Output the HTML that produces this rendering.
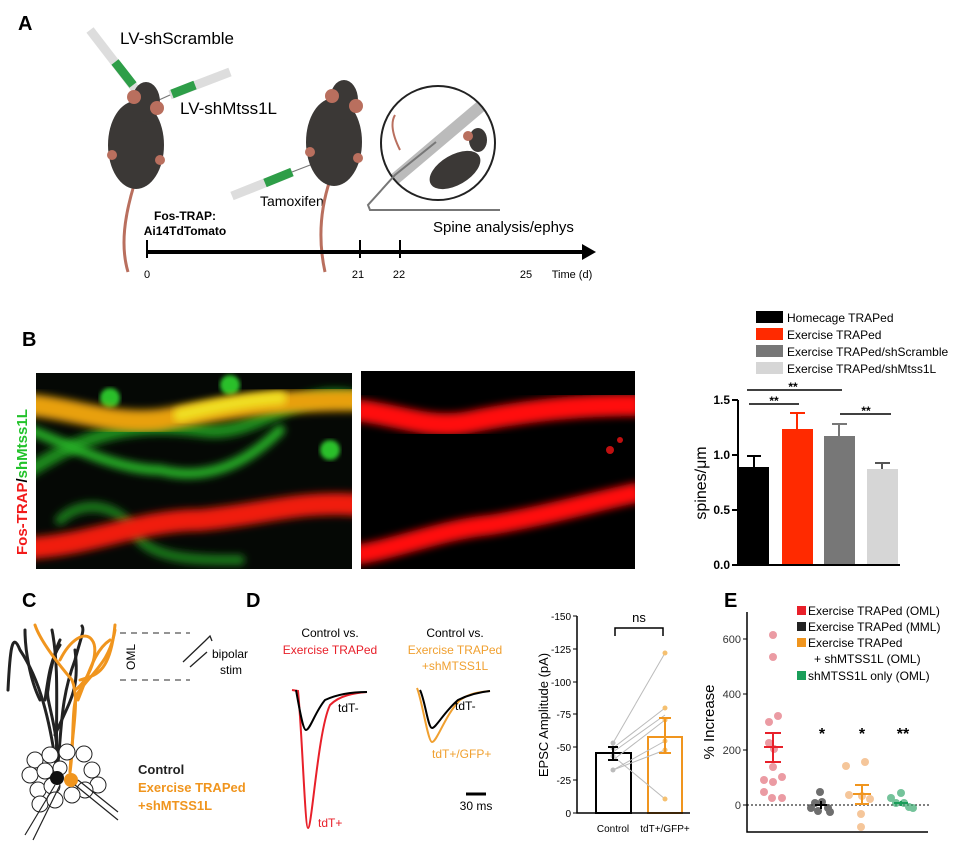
<!DOCTYPE html>
<html><head><meta charset="utf-8"><style>
html,body{margin:0;padding:0;background:#fff;}
svg{display:block;font-family:"Liberation Sans",Arial,sans-serif;}
</style></head><body>
<svg width="954" height="846" viewBox="0 0 954 846" xmlns="http://www.w3.org/2000/svg">
<defs>
<filter id="bl" x="-10%" y="-50%" width="120%" height="200%"><feGaussianBlur stdDeviation="4"/></filter>
<filter id="bl2"><feGaussianBlur stdDeviation="2"/></filter>
<clipPath id="c1"><rect x="36" y="373" width="316" height="196"/></clipPath>
<clipPath id="c2"><rect x="361" y="371" width="274" height="198"/></clipPath>
<clipPath id="wh"><circle cx="438" cy="143" r="57"/></clipPath>
</defs>
<rect width="954" height="846" fill="#fff"/>

<!-- Panel A -->
<text x="18" y="30" font-size="20" font-weight="bold">A</text>
<g stroke="#555" stroke-width="1.2">
<line x1="90" y1="30" x2="140" y2="95" stroke-width="9" stroke="#ddd"/>
<line x1="115" y1="62" x2="133" y2="85" stroke-width="9" stroke="#2e9e48"/>
<line x1="140" y1="95" x2="155" y2="112" stroke="#777"/>
<line x1="230" y1="72" x2="170" y2="95" stroke-width="9" stroke="#ddd"/>
<line x1="195" y1="85" x2="172" y2="94" stroke-width="9" stroke="#2e9e48"/>
<line x1="170" y1="95" x2="150" y2="104" stroke="#777"/>
<line x1="232" y1="196" x2="290" y2="173" stroke-width="9" stroke="#ddd"/>
<line x1="265" y1="183" x2="292" y2="172" stroke-width="9" stroke="#2e9e48"/>
<line x1="292" y1="172" x2="318" y2="162" stroke="#777"/>
</g>
<text x="120" y="44" font-size="17">LV-shScramble</text>
<text x="180" y="114" font-size="17">LV-shMtss1L</text>
<text x="260" y="206" font-size="14">Tamoxifen</text>
<!-- mouse 1 -->
<path d="M134,185 C125,215 120,245 128,272" stroke="#b96f5e" stroke-width="3" fill="none"/>
<ellipse cx="136" cy="145" rx="28" ry="44" fill="#3b3836"/>
<ellipse cx="146" cy="102" rx="14" ry="20" fill="#3b3836"/>
<circle cx="134" cy="97" r="7" fill="#b96f5e"/><circle cx="157" cy="108" r="7" fill="#b96f5e"/>
<circle cx="112" cy="155" r="5" fill="#b96f5e"/><circle cx="160" cy="160" r="5" fill="#b96f5e"/>
<!-- mouse 2 -->
<path d="M330,180 C320,210 318,240 325,272" stroke="#b96f5e" stroke-width="3" fill="none"/>
<ellipse cx="334" cy="142" rx="28" ry="44" fill="#3b3836"/>
<ellipse cx="344" cy="100" rx="14" ry="20" fill="#3b3836"/>
<circle cx="332" cy="96" r="7" fill="#b96f5e"/><circle cx="356" cy="106" r="7" fill="#b96f5e"/>
<circle cx="310" cy="152" r="5" fill="#b96f5e"/><circle cx="358" cy="158" r="5" fill="#b96f5e"/>
<!-- wheel -->
<g clip-path="url(#wh)"><line x1="370" y1="200" x2="500" y2="90" stroke="#bbb" stroke-width="12"/></g>
<circle cx="438" cy="143" r="57" fill="none" stroke="#222" stroke-width="2"/>
<path d="M436,142 L395,175 L368,205 L370,210 L500,210" fill="none" stroke="#777" stroke-width="2"/>
<path d="M400,150 C390,130 392,120 395,115" stroke="#b96f5e" stroke-width="2" fill="none"/>
<ellipse cx="455" cy="170" rx="28" ry="15" fill="#3b3836" transform="rotate(-30 455 170)"/>
<ellipse cx="478" cy="140" rx="9" ry="12" fill="#3b3836"/>
<circle cx="468" cy="136" r="5" fill="#b96f5e"/>
<!-- timeline -->
<text x="185" y="220" font-size="12" font-weight="bold" text-anchor="middle">Fos-TRAP:</text>
<text x="185" y="235" font-size="12" font-weight="bold" text-anchor="middle">Ai14TdTomato</text>
<text x="433" y="232" font-size="15">Spine analysis/ephys</text>
<line x1="147" y1="252" x2="585" y2="252" stroke="#000" stroke-width="4"/>
<path d="M582,244 L596,252 L582,260 Z" fill="#000"/>
<line x1="147" y1="240" x2="147" y2="258" stroke="#000" stroke-width="2"/>
<line x1="360" y1="240" x2="360" y2="258" stroke="#000" stroke-width="2"/>
<line x1="400" y1="240" x2="400" y2="258" stroke="#000" stroke-width="2"/>
<g font-size="11" text-anchor="middle"><text x="147" y="278">0</text><text x="358" y="278">21</text><text x="399" y="278">22</text><text x="526" y="278">25</text><text x="572" y="278">Time (d)</text></g>

<!-- Panel B -->
<text x="22" y="346" font-size="20" font-weight="bold">B</text>
<text transform="translate(27,555) rotate(-90)" font-size="15" font-weight="bold"><tspan fill="#f21a1a">Fos-TRAP</tspan><tspan fill="#000">/</tspan><tspan fill="#22c22a">shMtss1L</tspan></text>
<rect x="36" y="373" width="316" height="196" fill="#050805"/>
<g clip-path="url(#c1)" fill="none" stroke-linecap="round">
<path d="M30,470 C80,440 120,420 200,430 C260,440 300,380 360,400" stroke="#1a8a1a" stroke-width="14" filter="url(#bl)"/>
<path d="M30,430 C80,450 120,470 160,470 C200,480 240,470 280,430" stroke="#28b028" stroke-width="10" filter="url(#bl)"/>
<path d="M60,520 C80,500 120,500 140,540 C160,560 200,560 240,560" stroke="#1c7a1c" stroke-width="10" filter="url(#bl)"/>
<circle cx="110" cy="398" r="10" fill="#2bc02b" filter="url(#bl2)"/>
<circle cx="230" cy="385" r="10" fill="#2bc02b" filter="url(#bl2)"/>
<circle cx="330" cy="450" r="10" fill="#2bc02b" filter="url(#bl2)"/>
<path d="M30,405 C80,410 110,425 160,420 C220,410 260,400 360,400" stroke="#e8a010" stroke-width="22" filter="url(#bl)"/>
<path d="M180,415 C220,405 250,400 280,398" stroke="#f0e020" stroke-width="14" filter="url(#bl)"/>
<path d="M30,548 C90,545 140,520 200,520 C260,515 300,500 360,505" stroke="#f01a0a" stroke-width="22" filter="url(#bl)"/>
</g>
<rect x="361" y="371" width="274" height="198" fill="#000"/>
<g clip-path="url(#c2)" fill="none">
<path d="M355,410 C400,415 430,430 470,422 C530,410 580,405 640,405" stroke="#ff1010" stroke-width="22" filter="url(#bl)"/>
<path d="M355,555 C400,548 440,530 490,525 C550,515 600,500 640,492" stroke="#ff1010" stroke-width="20" filter="url(#bl)"/>
<circle cx="610" cy="450" r="4" fill="#c01010"/><circle cx="620" cy="440" r="3" fill="#c01010"/>
</g>

<!-- B bar chart -->
<g font-size="12">
<rect x="756" y="311" width="27" height="12" fill="#000"/><text x="787" y="322">Homecage TRAPed</text>
<rect x="756" y="328" width="27" height="12" fill="#ff2a00"/><text x="787" y="339">Exercise TRAPed</text>
<rect x="756" y="345" width="27" height="12" fill="#777"/><text x="787" y="356">Exercise TRAPed/shScramble</text>
<rect x="756" y="362" width="27" height="12" fill="#d6d6d6"/><text x="787" y="373">Exercise TRAPed/shMtss1L</text>
</g>
<g stroke="#000" stroke-width="1.5">
<line x1="747" y1="390" x2="842" y2="390"/>
<line x1="749" y1="404" x2="799" y2="404"/>
<line x1="840" y1="414" x2="891" y2="414"/>
</g>
<g font-size="12" font-weight="bold" text-anchor="middle"><text x="793" y="391">**</text><text x="774" y="405">**</text><text x="866" y="415">**</text></g>
<rect x="739" y="467" width="30" height="98" fill="#000"/>
<rect x="782" y="429" width="31" height="136" fill="#ff2a00"/>
<rect x="824" y="436" width="31" height="129" fill="#777"/>
<rect x="867" y="469" width="31" height="96" fill="#d6d6d6"/>
<g stroke-width="2" fill="none">
<path d="M754,467 V456 M747,456 H761" stroke="#000"/>
<path d="M797,429 V413 M790,413 H805" stroke="#ff2a00"/>
<path d="M839,436 V424 M832,424 H847" stroke="#777"/>
<path d="M882,469 V463 M875,463 H890" stroke="#555"/>
</g>
<path d="M738,400 V565 H900" stroke="#000" stroke-width="2" fill="none"/>
<g stroke="#000" stroke-width="2"><line x1="732" y1="400" x2="738" y2="400"/><line x1="732" y1="455" x2="738" y2="455"/><line x1="732" y1="510" x2="738" y2="510"/><line x1="732" y1="565" x2="738" y2="565"/></g>
<g font-size="12" font-weight="bold" text-anchor="end"><text x="730" y="404">1.5</text><text x="730" y="459">1.0</text><text x="730" y="514">0.5</text><text x="730" y="569">0.0</text></g>
<text transform="translate(706,483) rotate(-90)" font-size="16" text-anchor="middle">spines/μm</text>

<!-- Panel C -->
<text x="22" y="607" font-size="20" font-weight="bold">C</text>
<g fill="none" stroke-width="3" stroke-linecap="round">
<path d="M57,772 C50,720 40,680 20,650 C12,630 10,650 8,690" stroke="#222"/>
<path d="M40,700 C30,680 25,650 25,630" stroke="#222"/>
<path d="M57,772 C55,720 60,670 52,630" stroke="#222"/>
<path d="M57,772 C60,730 45,700 48,690 C50,670 55,650 60,640" stroke="#222"/>
<path d="M45,700 C48,680 50,660 60,645" stroke="#222"/>
<path d="M57,772 C62,730 60,700 75,660 C80,640 85,630 82,626" stroke="#222"/>
<path d="M55,735 C70,700 80,690 75,650" stroke="#222"/>
<path d="M70,772 C75,740 70,700 80,690 C95,670 110,660 115,630" stroke="#f0951e"/>
<path d="M70,772 C72,730 80,700 72,680 C55,660 40,640 35,625" stroke="#f0951e"/>
<path d="M75,690 C90,680 100,650 92,640 C85,630 70,640 60,660" stroke="#f0951e"/>
<path d="M78,700 C90,670 95,650 110,640" stroke="#f0951e"/>
<path d="M80,680 C95,675 110,675 115,625" stroke="#f0951e"/>
</g>
<g fill="#fff" stroke="#222" stroke-width="1">
<circle cx="35" cy="760" r="8"/><circle cx="50" cy="755" r="8"/><circle cx="67" cy="752" r="8"/><circle cx="84" cy="754" r="8"/>
<circle cx="30" cy="775" r="8"/><circle cx="45" cy="771" r="8"/><circle cx="92" cy="770" r="8"/><circle cx="98" cy="785" r="8"/>
<circle cx="38" cy="790" r="8"/><circle cx="52" cy="786" r="8"/><circle cx="85" cy="790" r="8"/><circle cx="72" cy="795" r="8"/>
<circle cx="40" cy="804" r="8"/><circle cx="55" cy="800" r="8"/><circle cx="60" cy="768" r="7"/>
</g>
<circle cx="57" cy="778" r="7" fill="#111"/><circle cx="71" cy="780" r="7" fill="#f0951e"/>
<g stroke="#222" stroke-width="1.2"><line x1="55" y1="785" x2="25" y2="835"/><line x1="60" y1="785" x2="33" y2="840"/><line x1="75" y1="785" x2="118" y2="820"/><line x1="78" y1="780" x2="118" y2="812"/></g>
<g stroke="#555" stroke-dasharray="6,5" stroke-width="1.2"><line x1="120" y1="633" x2="190" y2="633"/><line x1="120" y1="680" x2="190" y2="680"/></g>
<text transform="translate(135,670) rotate(-90)" font-size="12">OML</text>
<path d="M183,662 L205,641 L210,636 L212,641 M190,667 L207,652" stroke="#222" stroke-width="1.3" fill="none"/>
<text x="212" y="658" font-size="12">bipolar</text><text x="220" y="674" font-size="12">stim</text>
<text x="138" y="774" font-size="13" font-weight="bold" fill="#222">Control</text>
<text x="138" y="792" font-size="13" font-weight="bold" fill="#f0951e">Exercise TRAPed</text>
<text x="138" y="810" font-size="13" font-weight="bold" fill="#f0951e">+shMTSS1L</text>

<!-- Panel D -->
<text x="246" y="607" font-size="20" font-weight="bold">D</text>
<text x="330" y="637" font-size="12" text-anchor="middle">Control vs.</text>
<text x="330" y="654" font-size="12" text-anchor="middle" fill="#e8202a">Exercise TRAPed</text>
<text x="455" y="637" font-size="12" text-anchor="middle">Control vs.</text>
<text x="455" y="654" font-size="12" text-anchor="middle" fill="#f0a030">Exercise TRAPed</text>
<text x="455" y="670" font-size="12" text-anchor="middle" fill="#f0a030">+shMTSS1L</text>
<path d="M292,690 L298,691 C302,730 305,828 308,828 C312,828 318,730 330,705 C340,695 355,693 367,692" stroke="#e8202a" stroke-width="2" fill="none"/>
<path d="M296,690 C300,712 303,730 306,730 C310,730 315,712 325,700 C340,693 355,692 367,692" stroke="#000" stroke-width="2" fill="none"/>
<text x="338" y="712" font-size="12">tdT-</text>
<text x="318" y="827" font-size="12" fill="#e8202a">tdT+</text>
<path d="M417,688 C422,700 428,742 432,742 C437,742 445,715 460,700 C470,693 480,692 490,691" stroke="#f0a030" stroke-width="2" fill="none"/>
<path d="M420,690 C425,700 428,728 432,728 C436,728 444,712 458,700 C470,694 480,692 490,691" stroke="#000" stroke-width="2" fill="none"/>
<text x="455" y="710" font-size="12">tdT-</text>
<text x="432" y="758" font-size="12" fill="#f0a030">tdT+/GFP+</text>
<line x1="466" y1="794" x2="486" y2="794" stroke="#000" stroke-width="3"/>
<text x="476" y="810" font-size="12" text-anchor="middle">30 ms</text>

<!-- D bar chart -->
<rect x="596" y="753" width="35" height="60" fill="none" stroke="#000" stroke-width="2"/>
<rect x="648" y="737" width="34" height="76" fill="none" stroke="#f0951e" stroke-width="2"/>
<g stroke="#bbb" stroke-width="1"><line x1="613" y1="743" x2="665" y2="653"/><line x1="613" y1="748" x2="665" y2="708"/><line x1="613" y1="752" x2="665" y2="715"/><line x1="613" y1="760" x2="665" y2="720"/><line x1="613" y1="770" x2="665" y2="741"/><line x1="613" y1="770" x2="665" y2="750"/><line x1="613" y1="756" x2="665" y2="799"/></g>
<g fill="#bbb"><circle cx="613" cy="743" r="2.5"/><circle cx="613" cy="748" r="2.5"/><circle cx="613" cy="770" r="2.5"/><circle cx="613" cy="756" r="2.5"/></g>
<g fill="#f5c070"><circle cx="665" cy="653" r="2.5"/><circle cx="665" cy="708" r="2.5"/><circle cx="665" cy="720" r="2.5"/><circle cx="665" cy="741" r="2.5"/><circle cx="665" cy="750" r="2.5"/><circle cx="665" cy="799" r="2.5"/></g>
<path d="M613,747 V760 M608,747 H618 M608,760 H618" stroke="#000" stroke-width="2"/>
<path d="M665,718 V753 M659,718 H671 M659,753 H671" stroke="#f0951e" stroke-width="2"/>
<path d="M577,616 V813 H690" stroke="#000" stroke-width="1.5" fill="none"/>
<g stroke="#000"><line x1="573" y1="616" x2="577" y2="616"/><line x1="573" y1="649" x2="577" y2="649"/><line x1="573" y1="682" x2="577" y2="682"/><line x1="573" y1="714" x2="577" y2="714"/><line x1="573" y1="747" x2="577" y2="747"/><line x1="573" y1="780" x2="577" y2="780"/><line x1="573" y1="813" x2="577" y2="813"/></g>
<g font-size="10" text-anchor="end"><text x="571" y="620">-150</text><text x="571" y="653">-125</text><text x="571" y="686">-100</text><text x="571" y="718">-75</text><text x="571" y="751">-50</text><text x="571" y="784">-25</text><text x="571" y="817">0</text></g>
<text transform="translate(548,715) rotate(-90)" font-size="13" text-anchor="middle">EPSC Amplitude (pA)</text>
<path d="M615,636 V628 H663 V636" stroke="#000" stroke-width="1.5" fill="none"/>
<text x="639" y="622" font-size="13" text-anchor="middle">ns</text>
<text x="613" y="832" font-size="10" text-anchor="middle">Control</text>
<text x="665" y="832" font-size="10" text-anchor="middle">tdT+/GFP+</text>

<!-- Panel E -->
<text x="724" y="607" font-size="20" font-weight="bold">E</text>
<g font-size="12">
<rect x="797" y="606" width="9" height="9" fill="#e8202a"/><text x="808" y="615">Exercise TRAPed (OML)</text>
<rect x="797" y="622" width="9" height="9" fill="#222"/><text x="808" y="631">Exercise TRAPed (MML)</text>
<rect x="797" y="638" width="9" height="9" fill="#f0951e"/><text x="808" y="647">Exercise TRAPed</text>
<text x="814" y="663">+ shMTSS1L (OML)</text>
<rect x="797" y="671" width="9" height="9" fill="#1a9e5a"/><text x="808" y="680">shMTSS1L only (OML)</text>
</g>
<path d="M747,612 V832 H928" stroke="#000" stroke-width="1.5" fill="none"/>
<g stroke="#000"><line x1="743" y1="639" x2="747" y2="639"/><line x1="743" y1="694" x2="747" y2="694"/><line x1="743" y1="750" x2="747" y2="750"/><line x1="743" y1="805" x2="747" y2="805"/></g>
<g font-size="11" text-anchor="end" fill="#333"><text x="741" y="643">600</text><text x="741" y="698">400</text><text x="741" y="754">200</text><text x="741" y="809">0</text></g>
<text transform="translate(714,722) rotate(-90)" font-size="15" text-anchor="middle">% Increase</text>
<line x1="747" y1="805" x2="930" y2="805" stroke="#000" stroke-dasharray="2,2"/>
<g fill="#e88a94" opacity="0.85">
<circle cx="773" cy="635" r="4"/><circle cx="773" cy="657" r="4"/><circle cx="769" cy="722" r="4"/><circle cx="778" cy="716" r="4"/>
<circle cx="769" cy="743" r="4"/><circle cx="774" cy="749" r="4"/><circle cx="773" cy="767" r="4"/><circle cx="764" cy="780" r="4"/>
<circle cx="773" cy="782" r="4"/><circle cx="782" cy="777" r="4"/><circle cx="764" cy="792" r="4"/><circle cx="772" cy="798" r="4"/><circle cx="782" cy="798" r="4"/>
</g>
<path d="M773,733 V762 M765,733 H781 M765,762 H781 M764,747 H783" stroke="#e8202a" stroke-width="2"/>
<g fill="#555" opacity="0.85">
<circle cx="820" cy="792" r="4"/><circle cx="811" cy="808" r="4"/><circle cx="818" cy="811" r="4"/><circle cx="822" cy="802" r="4"/><circle cx="828" cy="808" r="4"/><circle cx="830" cy="812" r="4"/><circle cx="815" cy="803" r="4"/>
</g>
<path d="M821,801 V809 M815,805 H827" stroke="#000" stroke-width="2"/>
<g fill="#f5c090" opacity="0.9">
<circle cx="846" cy="766" r="4"/><circle cx="865" cy="762" r="4"/><circle cx="849" cy="795" r="4"/><circle cx="862" cy="796" r="4"/><circle cx="870" cy="799" r="4"/><circle cx="861" cy="814" r="4"/><circle cx="861" cy="827" r="4"/>
</g>
<path d="M862,785 V804 M855,785 H869 M855,804 H869 M853,794 H871" stroke="#f0951e" stroke-width="2"/>
<g fill="#3aaa70" opacity="0.7">
<circle cx="891" cy="798" r="4"/><circle cx="901" cy="793" r="4"/><circle cx="896" cy="803" r="4"/><circle cx="904" cy="803" r="4"/><circle cx="909" cy="807" r="4"/><circle cx="913" cy="808" r="4"/>
</g>
<path d="M901,801 V806 M894,803 H908" stroke="#1a9e5a" stroke-width="2"/>
<g font-size="16" font-weight="bold" text-anchor="middle"><text x="822" y="739">*</text><text x="862" y="739">*</text><text x="903" y="739">**</text></g>
</svg>
</body></html>
